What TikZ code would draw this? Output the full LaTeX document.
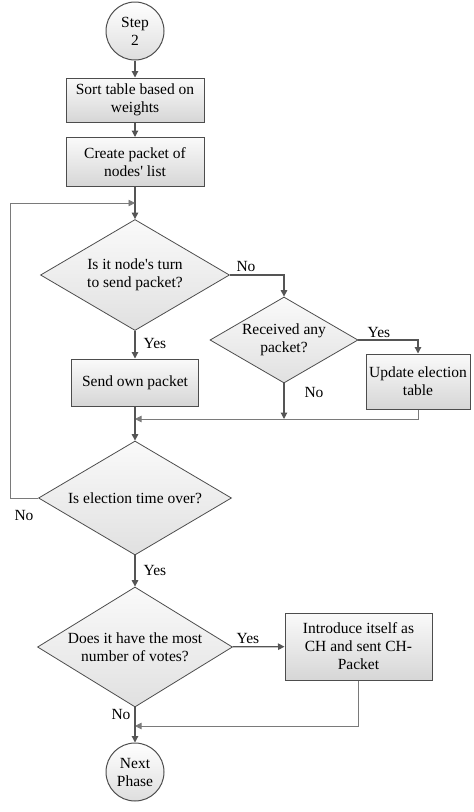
\documentclass[tikz,border=0pt]{standalone}
\usepackage{fontspec}
\setmainfont{Liberation Serif}
\usetikzlibrary{arrows.meta,positioning,shapes.geometric}
\definecolor{edge}{HTML}{4D4D4D}
\definecolor{flow}{HTML}{555555}
\definecolor{ret}{HTML}{7A7A7A}
\definecolor{boxtop}{HTML}{FAFAFA}
\definecolor{boxbot}{HTML}{D6D6D6}

\begin{document}
\begin{tikzpicture}[x=1pt,y=-1pt,
  font=\fontsize{15.5}{18}\selectfont,
  proc/.style={rectangle,draw=edge,line width=1pt,top color=boxtop,bottom color=boxbot,align=center,inner sep=2pt},
  decide/.style={diamond,draw=edge,line width=0.8pt,top color=boxtop,bottom color=boxbot!75,align=center,inner sep=-4pt,aspect=1.6},
  term/.style={circle,draw=edge,line width=1pt,top color=white,bottom color=boxbot!80,align=center,minimum size=58pt,inner sep=0pt},
  arr/.style={draw=flow,line width=1.2pt,-{Triangle[length=6.5pt,width=6.5pt]}},
  back/.style={draw=ret,line width=0.8pt,-{Triangle[length=6.5pt,width=6.5pt]}},
  lbl/.style={inner sep=0pt}]
  \useasboundingbox (0,0) rectangle (474,812);

  % main column
  \node[term] (step) at (135,31) {Step\\2};
  \node[proc,minimum width=138pt,minimum height=44pt] (sort) at (135,100) {Sort table based on\\weights};
  \node[proc,minimum width=138pt,minimum height=49pt] (create) at (135,162) {Create packet of\\nodes\textquotesingle\ list};
  \node[decide,minimum width=189pt,minimum height=111pt] (turn) at (135,275) {Is it node\textquotesingle s turn\\to send packet?};
  \node[proc,minimum width=127pt,minimum height=47pt] (send) at (135,382.5) {Send own packet};
  \node[decide,minimum width=193pt,minimum height=114pt] (over) at (135,498) {Is election time over?};
  \node[decide,minimum width=195pt,minimum height=120pt] (most) at (135,647) {Does it have the most\\number of votes?};
  \node[term] (next) at (135,772) {Next\\Phase};

  % side branch
  \node[decide,minimum width=148pt,minimum height=86pt] (recv) at (284,340) {Received any\\packet?};
  \node[proc,minimum width=104pt,minimum height=55pt] (update) at (418,381.5) {Update election\\table};
  \node[proc,minimum width=147pt,minimum height=67pt] (intro) at (358.5,646.5) {Introduce itself as\\CH and sent CH-\\Packet};

  % joins
  \coordinate (join) at (135,203);
  \coordinate (loopx) at (10,0);
  \coordinate (merge) at (135,419);
  \coordinate (merge2) at (135,726);

  \draw[arr] (step) -- (sort);
  \draw[arr] (sort) -- (create);
  \draw[arr] (create) -- (turn);
  \draw[arr] (turn.east) -| (recv.north);
  \draw[arr] (recv.east) -| (update.north);
  \draw[arr] (turn) -- (send);
  \draw[arr] (recv.south) -- (recv.south |- merge);
  \draw[back] (update.south) |- (merge);
  \draw[arr] (send) -- (over);
  \draw[back] (over.west) -- (over.west -| loopx) |- (join);
  \draw[arr] (over) -- (most);
  \draw[arr] (most) -- (intro);
  \draw[back] (intro.south) |- (merge2);
  \draw[arr] (most) -- (next);

  % branch labels
  \node[lbl] (no1) at (246,266) {No};
  \node[lbl] (yes1) at (155,343) {Yes};
  \node[lbl] (yes2) at (379,332) {Yes};
  \node[lbl] (no2) at (314,392) {No};
  \node[lbl] (no3) at (24,515) {No};
  \node[lbl] (yes3) at (155,570) {Yes};
  \node[lbl] (yes4) at (248,638) {Yes};
  \node[lbl] (no4) at (121,714) {No};
\end{tikzpicture}
\end{document}
